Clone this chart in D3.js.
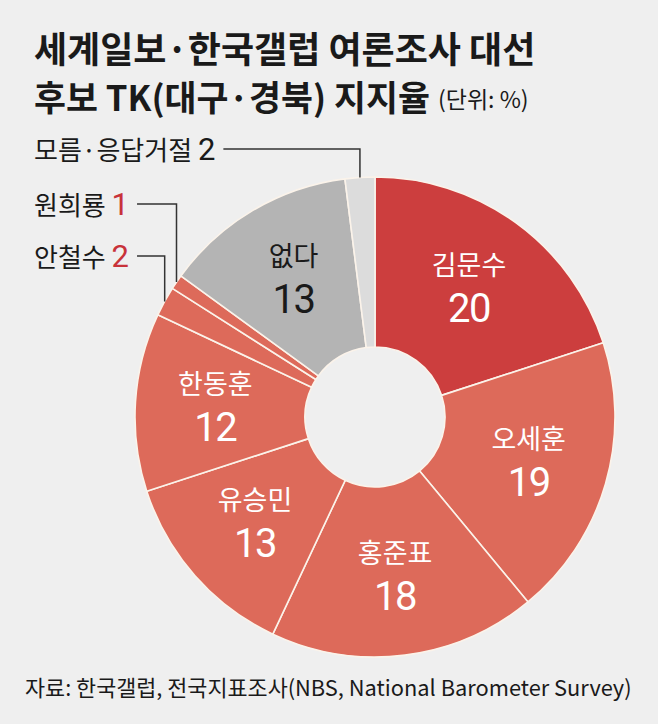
<!DOCTYPE html>
<html><head><meta charset="utf-8">
<script src="https://cdn.jsdelivr.net/npm/d3@7"></script>
<style>
html,body{margin:0;padding:0;background:#efefef;}
svg{display:block;}
text{font-family:"Noto Sans CJK KR","Noto Sans",sans-serif;}
</style></head>
<body>
<svg id="chart" width="658" height="724"></svg>
<script>
// ---- data ----
const categories = ["김문수","오세훈","홍준표","유승민","한동훈","안철수","원희룡","없다","모름·응답거절"];
const values = [20,19,18,13,12,2,1,13,2];
const groups = ["lead","cand","cand","cand","cand","cand","cand","none","dk"];
const calloutCats = ["모름·응답거절","원희룡","안철수"];
const titleLine1 = "세계일보·한국갤럽 여론조사 대선";
const titleLine2 = "후보 TK(대구·경북) 지지율";
const unitText = "(단위: %)";
const sourceText = "자료: 한국갤럽, 전국지표조사(NBS, National Barometer Survey)";

const data = categories.map((c,i)=>({name:c, value:values[i], group:groups[i]}));

const svg = d3.select("#chart");
svg.append("rect").attr("width",658).attr("height",724).attr("fill","#efefef");

// helper: shrink font so the natural width fits the target width
function fitText(sel, target, maxSize){
  sel.attr("font-size", maxSize);
  const w = sel.node().getComputedTextLength();
  if (w > target) sel.attr("font-size", maxSize*target/w);
  return sel;
}

// title
fitText(svg.append("text").attr("x",34).attr("y",63).attr("font-weight",700)
  .attr("fill","#1a1a1a").text(titleLine1), 504, 36);
fitText(svg.append("text").attr("x",34).attr("y",111).attr("font-weight",700)
  .attr("fill","#1a1a1a").text(titleLine2), 396, 36);
fitText(svg.append("text").attr("x",438).attr("y",108).attr("font-weight",400)
  .attr("fill","#1a1a1a").text(unitText), 110, 23);

// donut
const cx = 375, cy = 417, rOuter = 240, rInner = 70;
const color = d3.scaleOrdinal().domain(["lead","cand","none","dk"])
  .range(["#cc3e3e","#dd6a5a","#b4b4b4","#dcdcdc"]);
const pie = d3.pie().value(d=>d.value).sort(null);
const arcs = pie(data);
const arc = d3.arc().innerRadius(rInner).outerRadius(rOuter);
const labelArc = d3.arc().innerRadius(160).outerRadius(160);
const edgeArc = d3.arc().innerRadius(rOuter).outerRadius(rOuter);

const g = svg.append("g").attr("transform",`translate(${cx},${cy})`);
g.selectAll("path.slice").data(arcs).join("path").attr("class","slice")
  .attr("d",arc).attr("fill",d=>color(d.data.group))
  .attr("stroke","#fbf3ea").attr("stroke-width",1.6).attr("stroke-linejoin","round");

// inside labels
const inside = arcs.filter(d=>!calloutCats.includes(d.data.name));
const lab = g.selectAll("g.lab").data(inside).join("g").attr("class","lab")
  .attr("transform",d=>{const [x,y]=labelArc.centroid(d);return `translate(${x},${y})`;});
lab.append("text").attr("text-anchor","middle").attr("y",-13).attr("font-size",27)
  .attr("fill",d=>d.data.group==="none"?"#1a1a1a":"#ffffff")
  .text(d=>d.data.name);
lab.append("text").attr("text-anchor","middle").attr("y",34).attr("font-size",40)
  .style("font-family","Roboto, 'Noto Sans', sans-serif").attr("font-weight",400)
  .attr("fill",d=>d.data.group==="none"?"#1a1a1a":"#ffffff")
  .attr("letter-spacing",-1.5)
  .text(d=>d.data.value);

// callouts
const calloutRows = {"모름·응답거절":160,"원희룡":215,"안철수":267};
calloutCats.forEach(name=>{
  const d = arcs.find(a=>a.data.name===name);
  const yb = calloutRows[name];
  const t = svg.append("text").attr("x",34).attr("y",yb).attr("font-size",26).attr("fill","#1a1a1a");
  t.append("tspan").text(name+" ");
  t.append("tspan").attr("font-size",31).style("font-family","Roboto, 'Noto Sans', sans-serif")
    .attr("fill", d.data.group==="cand" ? "#c8323a" : "#1a1a1a").text(d.data.value);
  const bb = t.node().getBBox();
  const [ex,ey] = edgeArc.centroid(d);
  const px = cx+ex, py = cy+ey;
  const ly = yb-11;
  svg.append("path")
    .attr("d",`M${bb.x+bb.width+8},${ly}H${px}V${py}`)
    .attr("fill","none").attr("stroke","#333").attr("stroke-width",1.5);
});

// source
fitText(svg.append("text").attr("x",25).attr("y",696).attr("fill","#1a1a1a").text(sourceText), 607, 23);
</script>
</body></html>
